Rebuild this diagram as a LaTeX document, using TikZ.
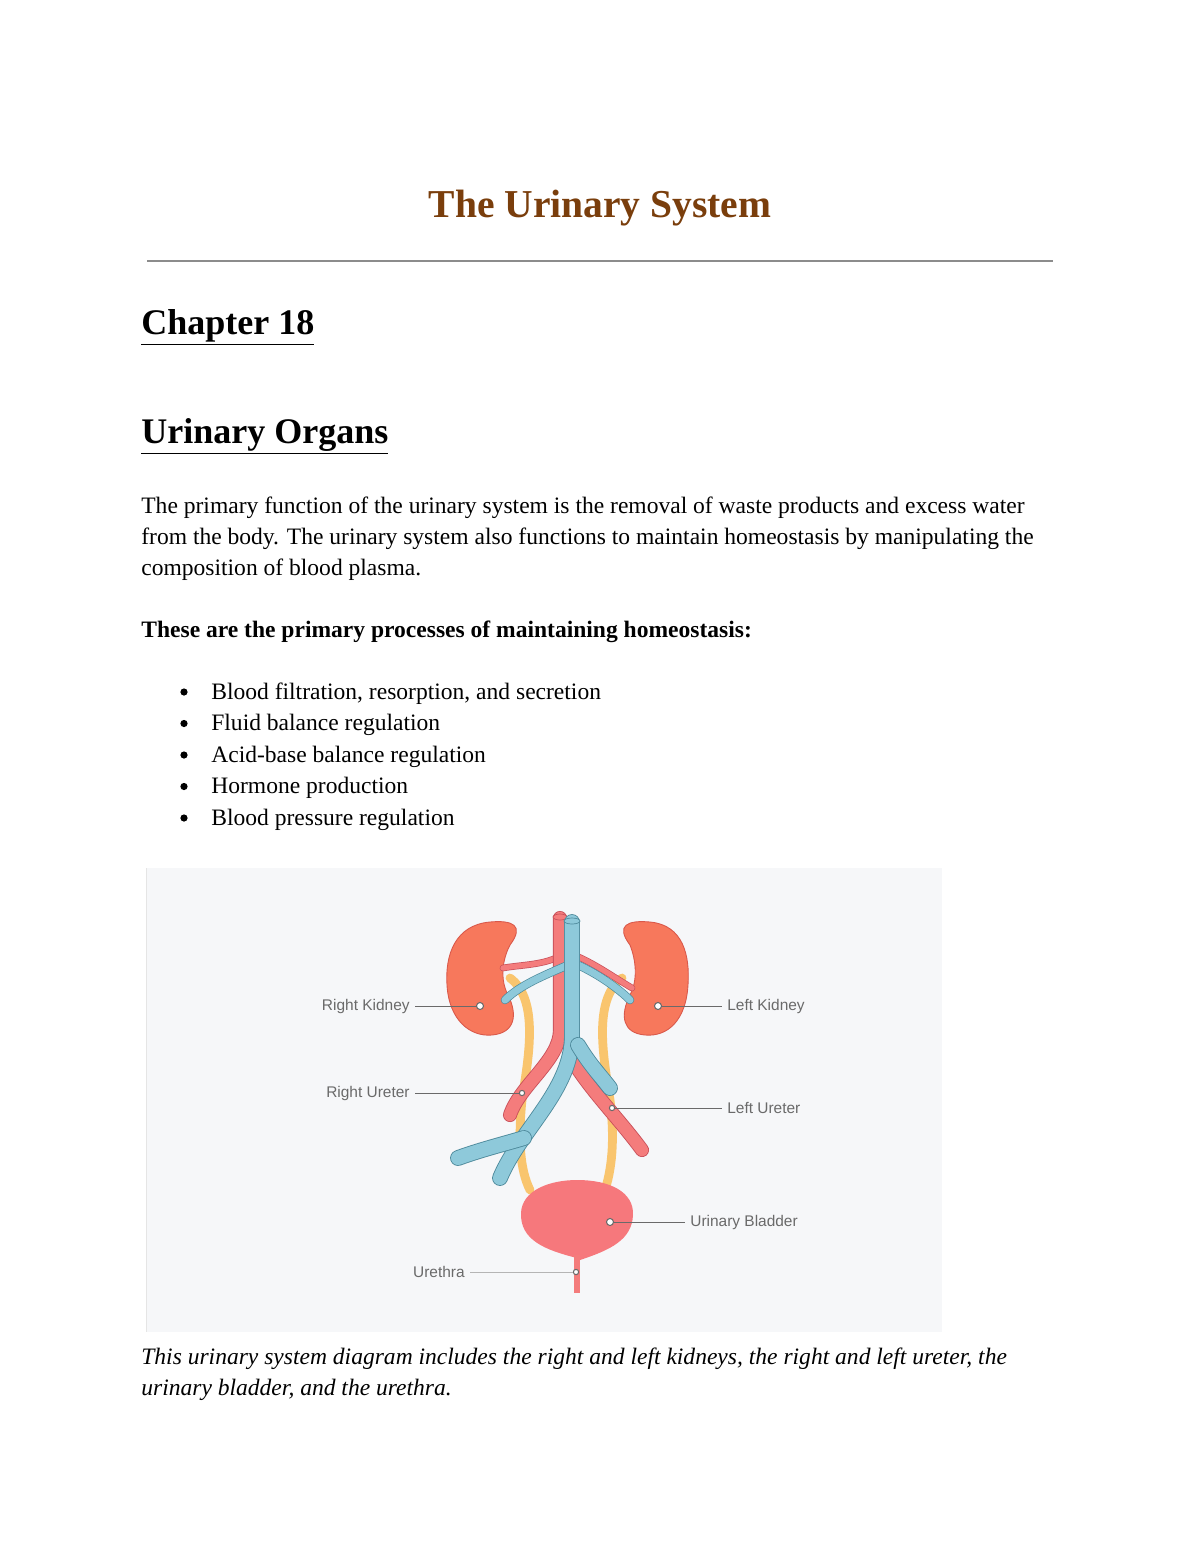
\documentclass[tikz,border=0pt]{standalone}
\usepackage{fontspec}
\setmainfont{Liberation Serif}
\newfontfamily\lab{Liberation Sans}
\usetikzlibrary{calc}
\definecolor{brownT}{HTML}{7A3E0C}
\definecolor{bgill}{HTML}{F6F7F9}
\definecolor{kid}{HTML}{F7785C}
\definecolor{kidE}{HTML}{D9584A}
\definecolor{art}{HTML}{F47C7C}
\definecolor{artE}{HTML}{C9505A}
\definecolor{vein}{HTML}{8EC9DA}
\definecolor{veinE}{HTML}{4E8A9C}
\definecolor{ure}{HTML}{F9C56E}
\definecolor{blad}{HTML}{F6787C}
\definecolor{labc}{HTML}{6A6A6A}
\tikzset{
 body/.style={anchor=base west,font=\fontsize{13.4}{15}\selectfont,inner sep=0},
 head/.style={anchor=base west,font=\fontsize{20.5}{24}\selectfont\bfseries,inner sep=0},
 lbl/.style={font=\lab\fontsize{8.8}{10}\selectfont,text=labc,inner sep=0},
 lline/.style={draw=labc,line width=0.5pt},
 ldot/.style={circle,fill=white,draw=labc,line width=0.6pt,inner sep=0,minimum size=4pt},
 vesselA/.style={line cap=round,double=art,draw=artE,double distance=7pt,line width=0.5pt},
 vesselV/.style={line cap=round,double=vein,draw=veinE,double distance=8pt,line width=0.5pt},
 thinA/.style={line cap=round,double=art,draw=artE,double distance=3pt,line width=0.4pt},
 thinV/.style={line cap=round,double=vein,draw=veinE,double distance=4pt,line width=0.4pt},
}
\begin{document}
\begin{tikzpicture}[x=0.02cm,y=-0.02cm]
\useasboundingbox (0,0) rectangle (1200,1553);
\fill[white] (0,0) rectangle (1200,1553);
\node[font=\fontsize{22.5}{26}\selectfont\bfseries,text=brownT,anchor=base] (title) at (600,217) {The Urinary System};
\draw[gray!90,line width=1.2pt] (147,261) -- (1053,261);
\node[head] (ch) at (141,334) {\underline{Chapter 18}};
\node[head] (uo) at (141,443) {\underline{Urinary Organs}};
\node[body] (p1) at (141,513) {The primary function of the urinary system is the removal of waste products and excess water};
\node[body] (p2) at (141,544) {from the body. The urinary system also functions to maintain homeostasis by manipulating the};
\node[body] (p3) at (141,575) {composition of blood plasma.};
\node[body,font=\fontsize{13.4}{15}\selectfont\bfseries] (p4) at (141,637) {These are the primary processes of maintaining homeostasis:};
\foreach \t [count=\i] in {{Blood filtration, resorption, and secretion},{Fluid balance regulation},{Acid-base balance regulation},{Hormone production},{Blood pressure regulation}}{
 \fill (184,{692+31.5*(\i-1)}) circle (3.6);
 \node[body] (b\i) at (211,{699+31.5*(\i-1)}) {\t};
}
% illustration
\fill[bgill] (146,868) rectangle (942,1332);
\draw[black!10] (146,868) -- (146,1332);
% ureters
\draw[ure,line width=5pt,line cap=round] (510,978) .. controls (540,1000) and (528,1060) .. (522,1100) .. controls (518,1140) and (520,1170) .. (530,1190);
\draw[ure,line width=5pt,line cap=round] (622,978) .. controls (592,1000) and (604,1060) .. (610,1100) .. controls (615,1140) and (612,1170) .. (604,1193);
% kidneys
\fill[kid,draw=kidE,line width=0.5pt] (510,945) .. controls (525,925) and (512,920) .. (490,922) .. controls (455,925) and (445,955) .. (447,985) .. controls (449,1020) and (470,1037) .. (492,1035) .. controls (515,1033) and (518,1015) .. (508,995) .. controls (500,980) and (502,960) .. (510,945) -- cycle;
\fill[kid,draw=kidE,line width=0.5pt] (630,945) .. controls (615,925) and (628,920) .. (650,922) .. controls (683,925) and (690,955) .. (688,985) .. controls (686,1020) and (668,1037) .. (645,1035) .. controls (622,1033) and (620,1015) .. (630,995) .. controls (638,980) and (636,960) .. (630,945) -- cycle;
% renal vessels
\draw[thinA] (556,958) .. controls (540,965) and (520,965) .. (503,968);
\draw[thinA] (566,952) .. controls (590,960) and (610,975) .. (632,988);
% aorta and branches
\draw[vesselA] (560,918) -- (560,1030) .. controls (560,1060) and (520,1085) .. (510,1115);
\draw[vesselA] (572,1060) .. controls (590,1090) and (620,1120) .. (642,1150);
\fill[art,draw=artE,line width=0.4pt] (560,917) ellipse (7 and 3);
\draw[thinV] (568,965) .. controls (545,975) and (520,985) .. (505,1000);
\draw[thinV] (578,965) .. controls (600,975) and (620,990) .. (630,1000);
% vena cava
\draw[vesselV] (572,922) -- (572,1035) .. controls (572,1090) and (520,1130) .. (500,1178);
\draw[vesselV] (524,1138) .. controls (500,1145) and (480,1150) .. (458,1158);
\draw[vesselV] (578,1045) .. controls (590,1065) and (600,1075) .. (610,1088);
\fill[vein,draw=veinE,line width=0.4pt] (572,921) ellipse (8 and 3);
% bladder
\fill[blad] (577,1258) .. controls (545,1250) and (520,1240) .. (521,1213) .. controls (522,1190) and (550,1180) .. (577,1180) .. controls (610,1180) and (634,1192) .. (633,1215) .. controls (632,1240) and (610,1250) .. (580,1260) -- cycle;
\draw[art,line width=3pt] (577,1255) -- (577,1293);
% labels
\node[lbl,anchor=east] (rk) at (410,1006) {Right Kidney};
\node[ldot] (rkd) at (480,1006) {};
\draw[lline] ($(rk.east)+(5,0)$) -- (rkd);
\node[lbl,anchor=west] (lk) at (727,1006) {Left Kidney};
\node[ldot] (lkd) at (658,1006) {};
\draw[lline] (lkd) -- ($(lk.west)+(-5,0)$);
\node[lbl,anchor=east] (ru) at (410,1093) {Right Ureter};
\node[ldot,minimum size=3pt] (rud) at (522,1093) {};
\draw[lline] ($(ru.east)+(5,0)$) -- (rud);
\node[lbl,anchor=west] (lu) at (727,1108) {Left Ureter};
\node[ldot,minimum size=3pt] (lud) at (612,1108) {};
\draw[lline] (lud) -- ($(lu.west)+(-5,0)$);
\node[lbl,anchor=west] (ub) at (690,1222) {Urinary Bladder};
\node[ldot] (ubd) at (610,1222) {};
\draw[lline] (ubd) -- ($(ub.west)+(-5,0)$);
\node[lbl,anchor=east] (ur) at (465,1272) {Urethra};
\node[ldot,minimum size=3pt] (urd) at (576,1272) {};
\draw[lline,draw=labc!50] ($(ur.east)+(5,0)$) -- (urd);
% caption
\node[body,font=\fontsize{13.4}{15}\selectfont\itshape] (c1) at (141,1364) {This urinary system diagram includes the right and left kidneys, the right and left ureter, the};
\node[body,font=\fontsize{13.4}{15}\selectfont\itshape] (c2) at (141,1395) {urinary bladder, and the urethra.};
\end{tikzpicture}
\end{document}
